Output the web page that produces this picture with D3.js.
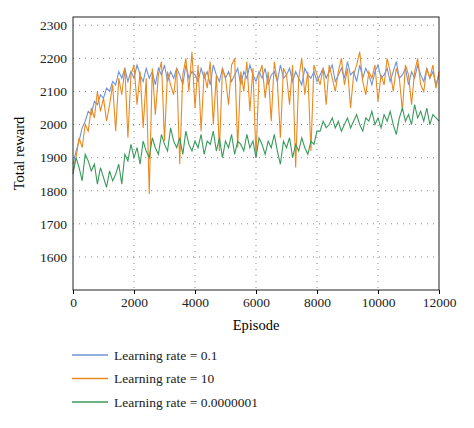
<!DOCTYPE html><html><head><meta charset="utf-8">
<script src="https://cdn.jsdelivr.net/npm/d3@7"></script>
<style>body{margin:0;background:#fff}text{font-family:"Liberation Serif","DejaVu Serif",serif}</style></head><body>
<svg id="c" width="474" height="428"></svg>
<script>
const step=100;
const xTicks=[0,2000,4000,6000,8000,10000,12000];
const yTicks=[1600,1700,1800,1900,2000,2100,2200,2300];
const seriesNames=["Learning rate = 0.1","Learning rate = 10","Learning rate = 0.0000001"];
const colors=["#6f93d8","#e88a22","#3a9a5c"];
const blue=[1880,1920,1950,1990,2010,2040,2030,2070,2060,2090,2080,2110,2100,2130,2120,2160,
2140,2170,2130,2160,2140,2180,2150,2130,2170,2140,2160,2120,2170,2150,2180,2130,2160,2140,2170,2150,2120,2180,2140,2160,2150,
2130,2170,2140,2160,2120,2180,2150,2130,2170,2140,2160,2130,2150,2170,2120,2160,2140,2180,2150,2130,2160,2140,2170,2120,2150,2160,2130,2180,2140,2150,2170,2130,2160,2140,2120,2170,2150,2140,2160,2130,
2150,2170,2140,2160,2180,2130,2150,2170,2140,2190,2150,2160,2130,2180,2140,2170,2150,2120,2160,2180,2140,2150,2170,2130,2160,2190,2140,2150,2170,2120,2160,2140,2180,2150,2130,2170,2140,2160,2120,2150];
const orange=[1860,1900,1960,1930,2000,1980,2050,2020,2100,2040,2080,2010,2060,2120,1980,2140,
2090,2170,1960,2150,2180,2060,2160,1990,2140,1790,2170,2030,2150,2190,1950,2160,2120,2090,2170,1880,2150,2200,2100,2220,2050,
2180,1980,2160,2110,2190,2000,2150,1920,2170,2140,2060,2180,2200,1930,2160,2100,2190,2040,2170,1900,2150,2180,2080,2160,2010,2190,2130,1960,2170,2150,2060,2180,1870,2140,2200,2090,2160,1920,2180,2150,
2120,2170,2060,2180,2140,2100,2160,2200,2120,2170,2050,2150,2180,2220,2130,2090,2160,2140,2180,2070,2150,2120,2200,2160,2100,2170,2140,2040,2180,2150,2060,2160,2200,2120,2100,2170,2140,2180,2110,2160];
const green=[1850,1900,1870,1830,1910,1890,1860,1880,1820,1870,1840,1810,1860,1830,1850,1880,
1820,1910,1890,1940,1900,1930,1880,1950,1920,1900,1960,1930,1910,1970,1940,1920,1990,1950,1930,1960,1910,1980,1940,1920,1950,
1930,1970,1910,1950,1940,1980,1920,1960,1900,1950,1930,1970,1910,1950,1940,1920,1970,1930,1950,1900,1960,1940,1910,1950,1930,1970,1920,1880,1950,1930,1960,1900,1940,1920,1960,1930,1910,1950,1940,1980,
1980,2010,1990,2000,2020,1990,2010,1980,2000,2020,1990,2010,2030,2000,1980,2020,2010,2040,2000,2020,1990,2030,2010,2040,2000,1970,2020,2050,2010,2030,2000,2060,2020,2040,2010,2050,2000,2030,2020,2010];
const svg=d3.select("#c");
const L=73,R=439,T=17,B=290;
const x=d3.scaleLinear().domain([0,12000]).range([L,R]);
const y=d3.scaleLinear().domain([1500,2325]).range([B,T]);
const g=svg.append("g");
g.selectAll(".gx").data(xTicks.slice(1,-1)).join("line").attr("x1",d=>x(d)).attr("x2",d=>x(d)).attr("y1",T).attr("y2",B).attr("stroke","#888").attr("stroke-dasharray","1,5");
g.selectAll(".gy").data(yTicks).join("line").attr("y1",d=>y(d)).attr("y2",d=>y(d)).attr("x1",L).attr("x2",R).attr("stroke","#888").attr("stroke-dasharray","1,5");
const line=d3.line().x((d,i)=>x(i*step)).y(d=>y(d));
[blue,orange,green].forEach((s,i)=>svg.append("path").datum(s).attr("d",line).attr("fill","none").attr("stroke",colors[i]).attr("stroke-width",1.1));
svg.append("rect").attr("x",L).attr("y",T).attr("width",R-L).attr("height",B-T).attr("fill","none").attr("stroke","#222").attr("stroke-width",1);
const ax=svg.append("g").attr("transform",`translate(0,${B})`).call(d3.axisBottom(x).tickValues(xTicks).tickFormat(d3.format("d")).tickSize(4).tickSizeOuter(0));
const ay=svg.append("g").attr("transform",`translate(${L},0)`).call(d3.axisLeft(y).tickValues(yTicks).tickFormat(d3.format("d")).tickSize(0).tickSizeOuter(0).tickPadding(6));
[ax,ay].forEach(a=>{a.select(".domain").remove();a.selectAll("text").attr("font-family","Liberation Serif").attr("font-size",13.5).attr("fill","#222");});
svg.append("text").attr("x",(L+R)/2).attr("y",330).attr("text-anchor","middle").attr("font-size",14.5).text("Episode");
svg.append("text").attr("transform",`translate(24,${(T+B)/2}) rotate(-90)`).attr("text-anchor","middle").attr("font-size",14.5).text("Total reward");
seriesNames.forEach((n,i)=>{const yy=355+i*23.5;
svg.append("line").attr("x1",72).attr("x2",108).attr("y1",yy).attr("y2",yy).attr("stroke",colors[i]).attr("stroke-width",1.3);
svg.append("text").attr("x",114).attr("y",yy+4.5).attr("font-size",13.5).attr("fill","#222").text(n);});
</script></body></html>
